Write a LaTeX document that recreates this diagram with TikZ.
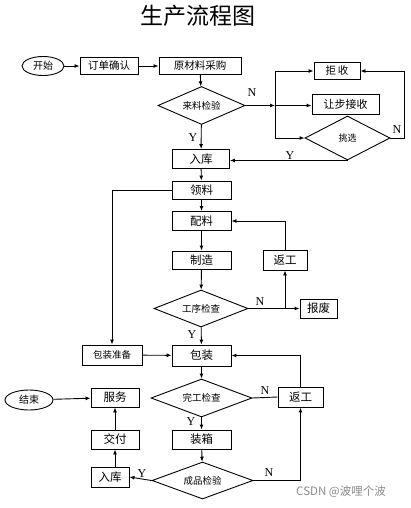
\documentclass[tikz,border=0pt]{standalone}
\usepackage{fontspec}
\setmainfont{Noto Sans CJK SC}
\newfontfamily\ynfont{Liberation Serif}
\usetikzlibrary{shapes.geometric,arrows.meta}
\begin{document}
\begin{tikzpicture}[x=1pt,y=-1pt,
  box/.style={draw,line width=0.9pt,rectangle,inner sep=0pt,font=\fontsize{10.5}{11}\selectfont},
  bigbox/.style={box,font=\fontsize{11.5}{12}\selectfont},
  dia/.style={draw,line width=0.9pt,diamond,aspect=2.3,inner sep=0pt,font=\fontsize{9.5}{10}\selectfont},
  oval/.style={draw,line width=0.9pt,ellipse,inner sep=0pt,font=\fontsize{10}{10}\selectfont},
  yn/.style={font=\ynfont\fontsize{12}{12}\selectfont,inner sep=0pt},
  link/.style={line width=0.9pt},
  arr/.style={link,-{Latex[length=5pt,width=4pt]}}
]
\fill[white] (0,0) rectangle (410,508);
\useasboundingbox (0,0) rectangle (410,508);

\node[font=\fontsize{23}{23}\selectfont] (title) at (198,16) {生产流程图};

% top row
\node[oval,minimum width=42pt,minimum height=19pt] (kaishi) at (43,66) {开始};
\node[box,minimum width=58pt,minimum height=17pt] (dingdan) at (109,66) {订单确认};
\node[box,minimum width=82pt,minimum height=17pt] (yuan) at (200,66) {原材料采购};
\node[dia,minimum width=87pt,minimum height=38pt] (laoliao) at (201.5,105.5) {来料检验};
\node[box,minimum width=46pt,minimum height=17pt] (jushou) at (337,71) {拒\,收};
\node[box,minimum width=67pt,minimum height=20pt,font=\fontsize{11}{11}\selectfont] (rangbu) at (345.5,104) {让步接收};
\node[dia,minimum width=85pt,minimum height=44pt,font=\fontsize{9}{9}\selectfont] (tiaoxuan) at (347.5,138) {挑选};
\node[bigbox,minimum width=57pt,minimum height=19pt] (ruku1) at (201,159) {入库};

% middle column
\node[bigbox,minimum width=59pt,minimum height=18pt] (lingliao) at (201.5,190) {领料};
\node[bigbox,minimum width=59pt,minimum height=19pt] (peiliao) at (201.5,221) {配料};
\node[bigbox,minimum width=59pt,minimum height=18pt] (zhizao) at (201.5,260) {制造};
\node[dia,minimum width=94pt,minimum height=37pt] (gongxu) at (201,308.5) {工序检查};
\node[bigbox,minimum width=44pt,minimum height=20pt] (fangong1) at (285,260) {返工};
\node[bigbox,minimum width=37pt,minimum height=19pt] (baofei) at (318.5,308.5) {报废};

% lower part
\node[box,minimum width=60pt,minimum height=20pt,font=\fontsize{9.5}{10}\selectfont] (zhunbei) at (112,355) {包装准备};
\node[bigbox,minimum width=59pt,minimum height=21pt] (baozhuang) at (201.5,355.5) {包装};
\node[dia,minimum width=101pt,minimum height=38pt] (wangong) at (201.5,398) {完工检查};
\node[bigbox,minimum width=45pt,minimum height=20pt] (fangong2) at (300.5,397) {返工};
\node[oval,minimum width=48pt,minimum height=20pt] (jieshu) at (29,400) {结束};
\node[bigbox,minimum width=48pt,minimum height=19pt] (fuwu) at (115,397.5) {服务};
\node[bigbox,minimum width=48pt,minimum height=19pt] (jiaofu) at (115,439.5) {交付};
\node[bigbox,minimum width=38pt,minimum height=20pt] (ruku2) at (110,477) {入库};
\node[bigbox,minimum width=59pt,minimum height=19pt] (zhuangxiang) at (201.5,439.5) {装箱};
\node[dia,minimum width=101pt,minimum height=37pt] (chengpin) at (202.5,480.5) {成品检验};

\node[text=black!45,font=\fontsize{11.5}{12}\selectfont,inner sep=0pt] (wm) at (341,492) {CSDN @波哩个波};

% coordinates
\coordinate (j1) at (275,105.5);
\coordinate (r1) at (404,138);
\coordinate (j2) at (285,308.5);

% connectors
\draw[arr] (kaishi) -- (dingdan);
\draw[arr] (dingdan) -- (yuan);
\draw[arr] (yuan) -- (laoliao);
\draw[arr] (laoliao) -- (ruku1);
\draw[arr] (laoliao.east) -- (j1);
\draw[arr] (j1) |- (jushou.west);
\draw[arr] (j1) -- (j1 -| rangbu.west);
\draw[arr] (j1) |- (tiaoxuan.west);
\draw[arr] (tiaoxuan.east) -- (r1) |- (jushou.east);
\draw[arr] (tiaoxuan.south) -- (tiaoxuan.south -| ruku1.east);
\draw[arr] (ruku1) -- (lingliao);
\draw[arr] (lingliao) -- (peiliao);
\draw[arr] (peiliao) -- (zhizao);
\draw[arr] (zhizao) -- (gongxu);
\draw[arr] (lingliao.west) -| (zhunbei.north);
\draw[arr] (gongxu) -- (baozhuang);
\draw[arr] (gongxu.east) -- (baofei.west);
\draw[arr] (j2) -- (fangong1.south);
\draw[arr] (fangong1.north) |- (peiliao.east);
\draw[arr] (zhunbei) -- (baozhuang);
\draw[arr] (baozhuang) -- (wangong);
\draw[arr] (fangong2.north) |- (baozhuang.east);
\draw[link] (fangong2.west) -- (wangong.east);
\draw[arr] (wangong) -- (zhuangxiang);
\draw[arr] (zhuangxiang) -- (chengpin);
\draw[arr] (chengpin.west) -- (ruku2.east);
\draw[arr] (chengpin.east) -| (fangong2.south);
\draw[arr] (jiaofu.south |- ruku2.north) -- (jiaofu.south);
\draw[arr] (jiaofu) -- (fuwu);
\draw[arr] (jieshu) -- (fuwu);

% labels
\node[yn] (y1) at (193,138) {Y};
\node[yn] (n1) at (252,93) {N};
\node[yn] (n2) at (397,130) {N};
\node[yn] (y2) at (290,156) {Y};
\node[yn] (n3) at (260,302) {N};
\node[yn] (y3) at (192,335) {Y};
\node[yn] (n4) at (265,391) {N};
\node[yn] (y4) at (191,422) {Y};
\node[yn] (y5) at (142,474) {Y};
\node[yn] (n5) at (269,473) {N};
\end{tikzpicture}
\end{document}
